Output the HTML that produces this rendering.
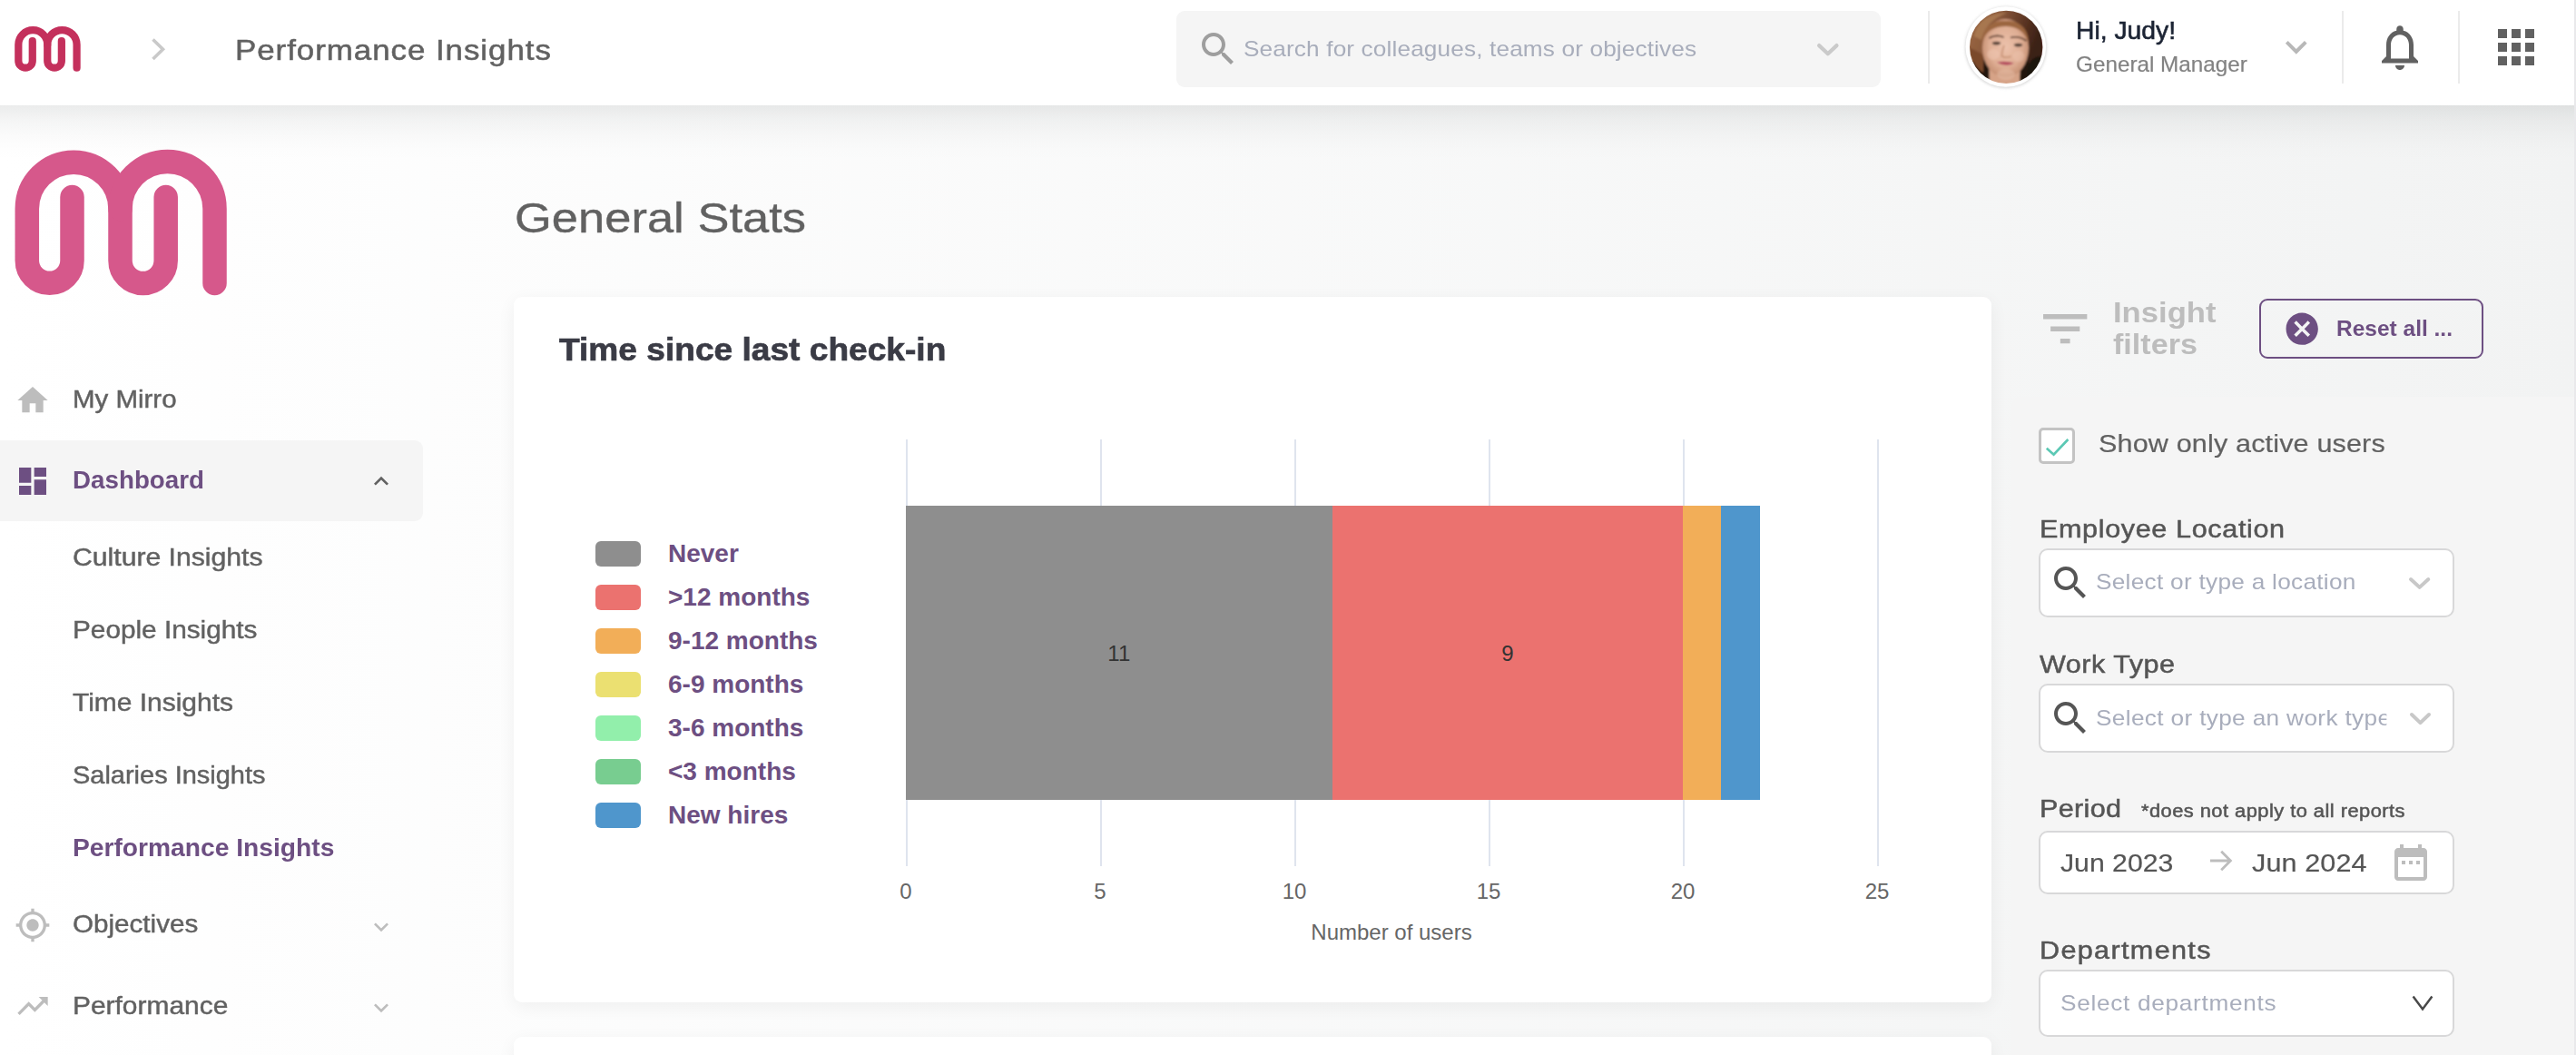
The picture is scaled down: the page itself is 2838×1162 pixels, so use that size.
<!DOCTYPE html>
<html lang="en"><head><meta charset="utf-8"><title>Mirro – Performance Insights</title>
<style>
html,body{margin:0;padding:0}
@media (max-width:1600px){html{zoom:.5}}
body{position:relative;width:2838px;height:1162px;overflow:hidden;font-family:"Liberation Sans",sans-serif;
 background:linear-gradient(90deg,#ffffff 0%,#f2f3f3 100%)}
.t{position:absolute;white-space:pre;display:block}
.i{position:absolute;display:block;overflow:visible}
.b{position:absolute;box-sizing:border-box}
.topshadow{left:0;top:116px;width:2838px;height:64px;background:linear-gradient(180deg,rgba(10,20,20,.082) 0,rgba(10,20,20,.062) 8px,rgba(10,20,20,.045) 16px,rgba(10,20,20,.031) 24px,rgba(10,20,20,.02) 32px,rgba(10,20,20,.012) 40px,rgba(10,20,20,.005) 50px,rgba(10,20,20,0) 64px)}
header.b{left:0;top:0;width:2836px;height:116px;background:#fff}
.edge{left:2836px;top:0;width:2px;height:1162px;background:#e9e9eb}
.vr{width:2px;top:12px;height:80px;background:#ebebeb}
.search{left:1296px;top:12px;width:775.5px;height:84px;border-radius:9px;background:#f5f5f5}
.navactive{left:0;top:485px;width:466px;height:89px;background:#f5f5f5;border-radius:0 9px 9px 0}
.card{left:566px;width:1628px;background:#fff;border-radius:9px;box-shadow:0 5px 20px rgba(0,0,0,.055)}
.panel{left:2216px;top:437px;width:620px;height:760px;background:#f5f5f5;border-radius:10px 0 0 0}
.sel{left:2246.2px;width:457.5px;background:#fff;border:2px solid #d8d8d9;border-radius:10px}
.reset{left:2489px;top:329px;width:247px;height:65.5px;border:2.5px solid #6d4f82;border-radius:9px}
.cb{left:2246px;top:471px;width:40px;height:40px;border:3.7px solid #c3c3c3;border-radius:5px;background:#fff}
.lg{left:656px;width:50px;height:28px;border-radius:6px}
.gl{top:484px;width:2px;height:470px;background:#dfe4ee}
.bar{top:557px;height:324px}
</style></head><body>
<div class="b topshadow"></div>
<div class="b edge"></div>
<header class="b">
<svg class="i" style="left:16.0px;top:29.0px" width="72.8" height="49.9" viewBox="16.5 164 234 160.5"><g fill="none" stroke="#c4305c" stroke-width="26.5" stroke-linecap="round"><path d="M80 216 V286 A24.85 24.85 0 0 1 30.3 286 V229 A51.35 51.35 0 0 1 133 229 V286 A25.1 25.1 0 0 0 183.2 286 V216"/><path d="M133 229 A52 52 0 0 1 237 229 V311"/></g></svg>
<svg class="i" style="left:165px;top:41px" width="20" height="27" viewBox="0 0 20 27"><polyline points="3.5,2.5 14.5,13.2 3.5,24" fill="none" stroke="#c9c9c9" stroke-width="3.6"/></svg>
<span class="t" style="left:259.4px;top:38px;font-size:31.2px;line-height:35px;color:#616161;letter-spacing:0.84px;-webkit-text-stroke:0.5px #616161;transform:scaleX(1.120);transform-origin:0 0">Performance Insights</span>
<div class="b search"></div>
<svg class="i" style="left:1317.5px;top:30.0px" width="48" height="48" viewBox="0 0 24 24"><path fill="#9e9e9e" d="M15.5 14h-.79l-.28-.27C15.41 12.59 16 11.11 16 9.5 16 5.91 13.09 3 9.5 3S3 5.91 3 9.5 5.91 16 9.5 16c1.61 0 3.09-.59 4.23-1.57l.27.28v.79l5 4.99L20.49 19l-4.99-5zm-6 0C7.01 14 5 11.99 5 9.5S7.01 5 9.5 5 14 7.01 14 9.5 11.99 14 9.5 14z"/></svg>
<span class="t" style="left:1370.2px;top:41px;font-size:23.4px;line-height:26px;color:#a8adbb;letter-spacing:0.12px;transform:scaleX(1.120);transform-origin:0 0">Search for colleagues, teams or objectives</span>
<svg class="i" style="left:2002.3px;top:47.9px" width="23.6" height="14.2" viewBox="0 0 23.6 14.2"><polyline points="2.10,2.10 11.80,11.23 21.50,2.10" fill="none" stroke="#cacaca" stroke-width="4.2" stroke-linecap="round" stroke-linejoin="round"/></svg>
<div class="b vr" style="left:2124px"></div>
<svg class="i" style="left:2155px;top:0px" width="110" height="104" viewBox="0 0 110 104">
<defs><clipPath id="av"><circle cx="55.2" cy="51.9" r="40.2"/></clipPath>
<filter id="avb" x="-10%" y="-10%" width="120%" height="120%"><feGaussianBlur stdDeviation="1.3"/></filter>
<filter id="avs" x="-20%" y="-20%" width="140%" height="140%"><feGaussianBlur stdDeviation="1.6"/></filter>
<radialGradient id="skin" cx="50%" cy="48%" r="58%"><stop offset="0" stop-color="#ecc2ac"/><stop offset="0.6" stop-color="#dfae94"/><stop offset="1" stop-color="#bd8668"/></radialGradient>
<linearGradient id="hair" x1="0" y1="0" x2="1" y2="0.3"><stop offset="0" stop-color="#a06c44"/><stop offset="0.45" stop-color="#87563a"/><stop offset="0.8" stop-color="#55301f"/><stop offset="1" stop-color="#3a2117"/></linearGradient></defs>
<circle cx="54.8" cy="52.3" r="45" fill="#cfcfcf" opacity=".75" filter="url(#avs)"/>
<circle cx="54.8" cy="51.5" r="44.3" fill="#fff"/>
<g clip-path="url(#av)"><g filter="url(#avb)">
<rect x="10" y="8" width="92" height="90" fill="#23160f"/>
<ellipse cx="90" cy="52" rx="10" ry="12" fill="#5a1a20"/>
<path d="M12 70 C8 30 30 8 56 10 C84 10 100 34 94 66 C90 74 84 78 80 70 L78 40 L32 40 L30 74 C24 84 14 82 12 70z" fill="url(#hair)"/>
<path d="M20 40 C24 22 38 14 56 14 C44 19 32 27 28 44z" fill="#b08258" opacity=".7"/><ellipse cx="17" cy="84" rx="17" ry="16" fill="#23160f"/><ellipse cx="93" cy="80" rx="15" ry="18" fill="#1f140e"/><path d="M14 52 C16 64 20 74 30 80 L30 60z" fill="#7a4a2c"/>
<rect x="36.5" y="70" width="34" height="30" fill="#d6a387"/>
<path d="M36.5 84 L36.5 100 L30 100z M70.5 82 L70.5 100 L78 100z" fill="#1b120d"/>
<ellipse cx="54.5" cy="53" rx="25.5" ry="32" fill="url(#skin)"/>
<path d="M29 46 C30 28 42 22 55 23 C68 22 80 30 80 48 C76 34 66 29 55 29 C42 29 33 34 29 46z" fill="#9c6640"/>
<ellipse cx="41" cy="60" rx="7" ry="6" fill="#f1cdb9" opacity=".45"/><ellipse cx="69" cy="62" rx="6.5" ry="6" fill="#efc9b5" opacity=".4"/>
<ellipse cx="55" cy="82" rx="10" ry="6" fill="#e9c0aa" opacity=".45"/>
<path d="M36.5 42 Q44 37.5 52.5 41" fill="none" stroke="#4a2b1d" stroke-width="1.7"/>
<path d="M60 41.5 Q69 39 77.5 45" fill="none" stroke="#4a2b1d" stroke-width="1.7"/>
<ellipse cx="44.5" cy="47.6" rx="4.6" ry="1.9" fill="#4d3a33"/><ellipse cx="68.5" cy="49.6" rx="4.6" ry="1.9" fill="#4d3a33"/>
<path d="M53 50 Q50 58 50.5 62 Q55 64.5 60.5 62" fill="none" stroke="#b9805f" stroke-width="1.6" opacity=".7"/>
<path d="M45 68.8 Q54.5 66.5 64 69.6 Q55 74.5 45 68.8z" fill="#b4485d"/>
</g></g></svg>
<span class="t" style="left:2286.8px;top:18px;font-size:27.3px;line-height:31px;color:#1c2434;-webkit-text-stroke:0.6px #1c2434;transform:scaleX(1.036);transform-origin:0 0">Hi, Judy!</span>
<span class="t" style="left:2286.8px;top:58px;font-size:23.4px;line-height:26px;color:#828282;-webkit-text-stroke:0.2px #828282;transform:scaleX(1.038);transform-origin:0 0">General Manager</span>
<svg class="i" style="left:2506.1px;top:27.9px" width="47.6" height="47.6" viewBox="0 0 24 24"><path fill="#b8b8b8" d="M16.59 8.59L12 13.17 7.41 8.59 6 10l6 6 6-6z"/></svg>
<div class="b vr" style="left:2580px"></div>
<svg class="i" style="left:2614.0px;top:21.8px" width="60" height="60" viewBox="0 0 24 24"><path fill="#616161" d="M12 22c1.1 0 2-.9 2-2h-4c0 1.1.9 2 2 2zm6-6v-5c0-3.07-1.63-5.64-4.5-6.32V4c0-.83-.67-1.5-1.5-1.5s-1.5.67-1.5 1.5v.68C7.64 5.36 6 7.92 6 11v5l-2 2v1h16v-1l-2-2zm-2 1H8v-6c0-2.48 1.51-4.5 4-4.5s4 2.02 4 4.5v6z"/></svg>
<div class="b vr" style="left:2708px"></div>
<svg class="i" style="left:2742.0px;top:22.4px" width="60" height="60" viewBox="0 0 24 24"><path fill="#616161" d="M4 8h4V4H4v4zm6 12h4v-4h-4v4zm-6 0h4v-4H4v4zm0-6h4v-4H4v4zm6 0h4v-4h-4v4zm6-10v4h4V4h-4zm-6 4h4V4h-4v4zm6 6h4v-4h-4v4zm0 6h4v-4h-4v4z"/></svg>
</header>
<nav>
<svg class="i" style="left:15.8px;top:164.5px" width="234.0" height="160.5" viewBox="16.5 164 234 160.5"><g fill="none" stroke="#d6588b" stroke-width="26.5" stroke-linecap="round"><path d="M80 216 V286 A24.85 24.85 0 0 1 30.3 286 V229 A51.35 51.35 0 0 1 133 229 V286 A25.1 25.1 0 0 0 183.2 286 V216"/><path d="M133 229 A52 52 0 0 1 237 229 V311"/></g></svg>
<div class="b navactive"></div>
<svg class="i" style="left:15.9px;top:420.8px" width="40" height="40" viewBox="0 0 24 24"><path fill="#bdbdbd" d="M10 20v-6h4v6h5v-8h3L12 3 2 12h3v8z"/></svg>
<svg class="i" style="left:15.7px;top:510.0px" width="40" height="40" viewBox="0 0 24 24"><path fill="#6d4f82" d="M3 13h8V3H3v10zm0 8h8v-6H3v6zm10 0h8V11h-8v10zm0-18v6h8V3h-8z"/></svg>
<svg class="i" style="left:16.0px;top:998.7px" width="40" height="40" viewBox="0 0 24 24"><path fill="#bdbdbd" d="M12 8c-2.21 0-4 1.79-4 4s1.79 4 4 4 4-1.79 4-4-1.79-4-4-4zm8.94 3c-.46-4.17-3.77-7.48-7.94-7.94V1h-2v2.06C6.83 3.52 3.52 6.83 3.06 11H1v2h2.06c.46 4.17 3.77 7.48 7.94 7.94V23h2v-2.06c4.17-.46 7.48-3.77 7.94-7.94H23v-2h-2.06zM12 19c-3.87 0-7-3.13-7-7s3.13-7 7-7 7 3.13 7 7-3.13 7-7 7z"/></svg>
<svg class="i" style="left:15.7px;top:1088.0px" width="40" height="40" viewBox="0 0 24 24"><path fill="#bdbdbd" d="M16 6l2.29 2.29-4.88 4.88-4-4L2 16.59 3.41 18l6-6 4 4 6.3-6.29L22 12V6z"/></svg>
<svg class="i" style="left:404.0px;top:514.3px" width="32" height="32" viewBox="0 0 24 24"><path fill="#616161" d="M12 8l-6 6 1.41 1.41L12 10.83l4.59 4.58L18 14z"/></svg>
<svg class="i" style="left:404.0px;top:1004.5px" width="32" height="32" viewBox="0 0 24 24"><path fill="#bdbdbd" d="M16.59 8.59L12 13.17 7.41 8.59 6 10l6 6 6-6z"/></svg>
<svg class="i" style="left:404.0px;top:1094.0px" width="32" height="32" viewBox="0 0 24 24"><path fill="#bdbdbd" d="M16.59 8.59L12 13.17 7.41 8.59 6 10l6 6 6-6z"/></svg>
<span class="t" style="left:80.3px;top:424px;font-size:27.3px;line-height:31px;color:#616161;-webkit-text-stroke:0.45px #616161;transform:scaleX(1.079);transform-origin:0 0">My Mirro</span>
<span class="t" style="left:80.3px;top:513px;font-size:27.3px;line-height:31px;font-weight:700;color:#6d4f82;transform:scaleX(1.017);transform-origin:0 0">Dashboard</span>
<span class="t" style="left:80.3px;top:598px;font-size:27.3px;line-height:31px;color:#616161;-webkit-text-stroke:0.45px #616161;transform:scaleX(1.105);transform-origin:0 0">Culture Insights</span>
<span class="t" style="left:80.3px;top:678px;font-size:27.3px;line-height:31px;color:#616161;-webkit-text-stroke:0.45px #616161;transform:scaleX(1.090);transform-origin:0 0">People Insights</span>
<span class="t" style="left:80.3px;top:758px;font-size:27.3px;line-height:31px;color:#616161;-webkit-text-stroke:0.45px #616161;transform:scaleX(1.097);transform-origin:0 0">Time Insights</span>
<span class="t" style="left:80.3px;top:838px;font-size:27.3px;line-height:31px;color:#616161;-webkit-text-stroke:0.45px #616161;transform:scaleX(1.061);transform-origin:0 0">Salaries Insights</span>
<span class="t" style="left:80.3px;top:918px;font-size:27.3px;line-height:31px;font-weight:700;color:#6d4f82;transform:scaleX(1.033);transform-origin:0 0">Performance Insights</span>
<span class="t" style="left:80.3px;top:1002px;font-size:27.3px;line-height:31px;color:#616161;-webkit-text-stroke:0.45px #616161;transform:scaleX(1.085);transform-origin:0 0">Objectives</span>
<span class="t" style="left:80.3px;top:1092px;font-size:27.3px;line-height:31px;color:#616161;-webkit-text-stroke:0.45px #616161;transform:scaleX(1.096);transform-origin:0 0">Performance</span>
</nav>
<main>
<span class="t" style="left:567.1px;top:214px;font-size:46.8px;line-height:52px;color:#616161;letter-spacing:0.04px;-webkit-text-stroke:0.4px #616161;transform:scaleX(1.120);transform-origin:0 0">General Stats</span>
<section class="b card" style="top:326.5px;height:777px"></section>
<section class="b card" style="top:1141.6px;height:60px"></section>
<span class="t" style="left:615.8px;top:365px;font-size:35.1px;line-height:39px;font-weight:700;color:#3a3b45;-webkit-text-stroke:0.7px #3a3b45;transform:scaleX(1.058);transform-origin:0 0">Time since last check-in</span>
<div class="b lg" style="top:595.6px;background:#8e8e8e"></div>
<div class="b lg" style="top:643.6px;background:#eb726f"></div>
<div class="b lg" style="top:691.7px;background:#f2ae58"></div>
<div class="b lg" style="top:739.8px;background:#ebe071"></div>
<div class="b lg" style="top:787.8px;background:#92efab"></div>
<div class="b lg" style="top:835.9px;background:#78cd90"></div>
<div class="b lg" style="top:883.9px;background:#4f96cc"></div>
<span class="t" style="left:736.0px;top:594px;font-size:28px;line-height:31px;font-weight:700;color:#6d4f82">Never</span>
<span class="t" style="left:736.0px;top:642px;font-size:28px;line-height:31px;font-weight:700;color:#6d4f82">&gt;12 months</span>
<span class="t" style="left:736.0px;top:690px;font-size:28px;line-height:31px;font-weight:700;color:#6d4f82">9-12 months</span>
<span class="t" style="left:736.0px;top:738px;font-size:28px;line-height:31px;font-weight:700;color:#6d4f82">6-9 months</span>
<span class="t" style="left:736.0px;top:786px;font-size:28px;line-height:31px;font-weight:700;color:#6d4f82">3-6 months</span>
<span class="t" style="left:736.0px;top:834px;font-size:28px;line-height:31px;font-weight:700;color:#6d4f82">&lt;3 months</span>
<span class="t" style="left:736.0px;top:882px;font-size:28px;line-height:31px;font-weight:700;color:#6d4f82">New hires</span>
<div class="b gl" style="left:998px"></div>
<div class="b gl" style="left:1212px"></div>
<div class="b gl" style="left:1426px"></div>
<div class="b gl" style="left:1640px"></div>
<div class="b gl" style="left:1854px"></div>
<div class="b gl" style="left:2068px"></div>
<div class="b bar" style="left:997.6px;width:470.8px;background:#8e8e8e"></div>
<div class="b bar" style="left:1468.4px;width:385.2px;background:#eb726f"></div>
<div class="b bar" style="left:1853.6px;width:42.8px;background:#f2ae58"></div>
<div class="b bar" style="left:1896.4px;width:42.8px;background:#4f96cc"></div>
<span class="t" style="left:998.0px;top:968px;font-size:24px;line-height:27px;color:#666;transform:translateX(-50%)">0</span>
<span class="t" style="left:1212.0px;top:968px;font-size:24px;line-height:27px;color:#666;transform:translateX(-50%)">5</span>
<span class="t" style="left:1426.0px;top:968px;font-size:24px;line-height:27px;color:#666;transform:translateX(-50%)">10</span>
<span class="t" style="left:1640.0px;top:968px;font-size:24px;line-height:27px;color:#666;transform:translateX(-50%)">15</span>
<span class="t" style="left:1854.0px;top:968px;font-size:24px;line-height:27px;color:#666;transform:translateX(-50%)">20</span>
<span class="t" style="left:2068.0px;top:968px;font-size:24px;line-height:27px;color:#666;transform:translateX(-50%)">25</span>
<span class="t" style="left:1533.0px;top:1013px;font-size:24px;line-height:27px;color:#666;transform:translateX(-50%)">Number of users</span>
<span class="t" style="left:1232.8px;top:706px;font-size:24px;line-height:27px;color:#333;transform:translateX(-50%)">11</span>
<span class="t" style="left:1661.0px;top:706px;font-size:24px;line-height:27px;color:#333;transform:translateX(-50%)">9</span>
</main>
<aside>
<div class="b panel"></div>
<svg class="i" style="left:2243.3px;top:329.6px" width="64.4" height="64.4" viewBox="0 0 24 24"><path fill="#bdbdbd" d="M10 18h4v-2h-4v2zM3 6v2h18V6H3zm3 7h12v-2H6v2z"/></svg>
<span class="t" style="left:2328.1px;top:327px;font-size:31.2px;line-height:35px;font-weight:700;color:#bdbdbd;transform:scaleX(1.110);transform-origin:0 0">Insight</span>
<span class="t" style="left:2328.1px;top:362px;font-size:31.2px;line-height:35px;font-weight:700;color:#bdbdbd;transform:scaleX(1.095);transform-origin:0 0">filters</span>
<div class="b reset"></div>
<svg class="i" style="left:2514.8px;top:341.0px" width="42.4" height="42.4" viewBox="0 0 24 24"><path fill="#6d4f82" d="M12 2C6.47 2 2 6.47 2 12s4.47 10 10 10 10-4.47 10-10S17.53 2 12 2zm5 13.59L15.59 17 12 13.41 8.41 17 7 15.59 10.59 12 7 8.41 8.41 7 12 10.59 15.59 7 17 8.41 13.41 12 17 15.59z"/></svg>
<span class="t" style="left:2573.8px;top:349px;font-size:23.4px;line-height:26px;font-weight:700;color:#6d4f82;transform:scaleX(1.047);transform-origin:0 0">Reset all ...</span>
<div class="b cb"></div>
<svg class="i" style="left:2246px;top:471px" width="40" height="40" viewBox="0 0 40 40"><polyline points="8.8,22.8 16.6,29.7 32.4,13" fill="none" stroke="#5bc8b4" stroke-width="2.7"/></svg>
<span class="t" style="left:2311.6px;top:473px;font-size:27.3px;line-height:31px;color:#616161;letter-spacing:0.13px;-webkit-text-stroke:0.2px #616161;transform:scaleX(1.120);transform-origin:0 0">Show only active users</span>
<span class="t" style="left:2246.8px;top:567px;font-size:27.3px;line-height:31px;color:#555;letter-spacing:0.56px;-webkit-text-stroke:0.5px #555;transform:scaleX(1.120);transform-origin:0 0">Employee Location</span>
<div class="b sel" style="top:604px;height:76px"></div>
<svg class="i" style="left:2257.3px;top:618.0px" width="48" height="48" viewBox="0 0 24 24"><path fill="#555" d="M15.5 14h-.79l-.28-.27C15.41 12.59 16 11.11 16 9.5 16 5.91 13.09 3 9.5 3S3 5.91 3 9.5 5.91 16 9.5 16c1.61 0 3.09-.59 4.23-1.57l.27.28v.79l5 4.99L20.49 19l-4.99-5zm-6 0C7.01 14 5 11.99 5 9.5S7.01 5 9.5 5 14 7.01 14 9.5 11.99 14 9.5 14z"/></svg>
<span class="t" style="left:2309.4px;top:628px;font-size:23.4px;line-height:26px;color:#a8adbc;letter-spacing:0.25px;transform:scaleX(1.120);transform-origin:0 0">Select or type a location</span>
<svg class="i" style="left:2654.3px;top:636.2px" width="23.3" height="13.7" viewBox="0 0 23.3 13.7"><polyline points="2.00,2.00 11.65,10.87 21.30,2.00" fill="none" stroke="#c8c8c8" stroke-width="4.0" stroke-linecap="round" stroke-linejoin="round"/></svg>
<span class="t" style="left:2246.8px;top:716px;font-size:27.3px;line-height:31px;color:#555;letter-spacing:0.45px;-webkit-text-stroke:0.5px #555;transform:scaleX(1.120);transform-origin:0 0">Work Type</span>
<div class="b sel" style="top:753px;height:75.5px"></div>
<svg class="i" style="left:2257.3px;top:766.8px" width="48" height="48" viewBox="0 0 24 24"><path fill="#555" d="M15.5 14h-.79l-.28-.27C15.41 12.59 16 11.11 16 9.5 16 5.91 13.09 3 9.5 3S3 5.91 3 9.5 5.91 16 9.5 16c1.61 0 3.09-.59 4.23-1.57l.27.28v.79l5 4.99L20.49 19l-4.99-5zm-6 0C7.01 14 5 11.99 5 9.5S7.01 5 9.5 5 14 7.01 14 9.5 11.99 14 9.5 14z"/></svg>
<span class="t" style="left:2309.4px;top:778px;font-size:23.4px;line-height:26px;color:#a8adbc;letter-spacing:0.31px;width:286.1px;overflow:hidden;transform:scaleX(1.120);transform-origin:0 0">Select or type an work type</span>
<svg class="i" style="left:2654.6px;top:785.0px" width="23.0" height="14.0" viewBox="0 0 23.0 14.0"><polyline points="2.00,2.00 11.50,11.17 21.00,2.00" fill="none" stroke="#c8c8c8" stroke-width="4.0" stroke-linecap="round" stroke-linejoin="round"/></svg>
<span class="t" style="left:2246.8px;top:875px;font-size:27.3px;line-height:31px;color:#555;letter-spacing:0.29px;-webkit-text-stroke:0.5px #555;transform:scaleX(1.120);transform-origin:0 0">Period</span>
<span class="t" style="left:2358.5px;top:882px;font-size:19.5px;line-height:22px;color:#555;letter-spacing:0.42px;-webkit-text-stroke:0.5px #555;transform:scaleX(1.120);transform-origin:0 0">*does not apply to all reports</span>
<div class="b sel" style="top:915.4px;height:69.4px"></div>
<span class="t" style="left:2269.6px;top:935px;font-size:27.3px;line-height:31px;color:#555;-webkit-text-stroke:0.2px #555;transform:scaleX(1.107);transform-origin:0 0">Jun 2023</span>
<svg class="i" style="left:2434px;top:935.3px" width="26" height="26" viewBox="0 0 26 26"><path d="M1 13 H23 M13.2 2.8 L23.4 13 L13.2 23.2" fill="none" stroke="#bdbdbd" stroke-width="2.8"/></svg>
<span class="t" style="left:2480.8px;top:935px;font-size:27.3px;line-height:31px;color:#555;letter-spacing:0.09px;-webkit-text-stroke:0.2px #555;transform:scaleX(1.120);transform-origin:0 0">Jun 2024</span>
<svg class="i" style="left:2632.0px;top:926.0px" width="48" height="48" viewBox="0 0 24 24"><path fill="#bdbdbd" d="M9 11H7v2h2v-2zm4 0h-2v2h2v-2zm4 0h-2v2h2v-2zm2-7h-1V2h-2v2H8V2H6v2H5c-1.11 0-1.99.9-1.99 2L3 20c0 1.1.89 2 2 2h14c1.1 0 2-.9 2-2V6c0-1.1-.9-2-2-2zm0 16H5V9h14v11z"/></svg>
<span class="t" style="left:2246.8px;top:1031px;font-size:27.3px;line-height:31px;color:#555;letter-spacing:1.20px;-webkit-text-stroke:0.5px #555;transform:scaleX(1.120);transform-origin:0 0">Departments</span>
<div class="b sel" style="top:1068.4px;height:73.2px"></div>
<span class="t" style="left:2269.6px;top:1092px;font-size:23.4px;line-height:26px;color:#a8adbc;letter-spacing:0.62px;transform:scaleX(1.120);transform-origin:0 0">Select departments</span>
<svg class="i" style="left:2657.4px;top:1096px" width="24" height="18" viewBox="0 0 24 18"><polyline points="1.6,1.6 12,15.4 22.4,1.6" fill="none" stroke="#484848" stroke-width="2.5"/></svg>
</aside>
</body></html>
